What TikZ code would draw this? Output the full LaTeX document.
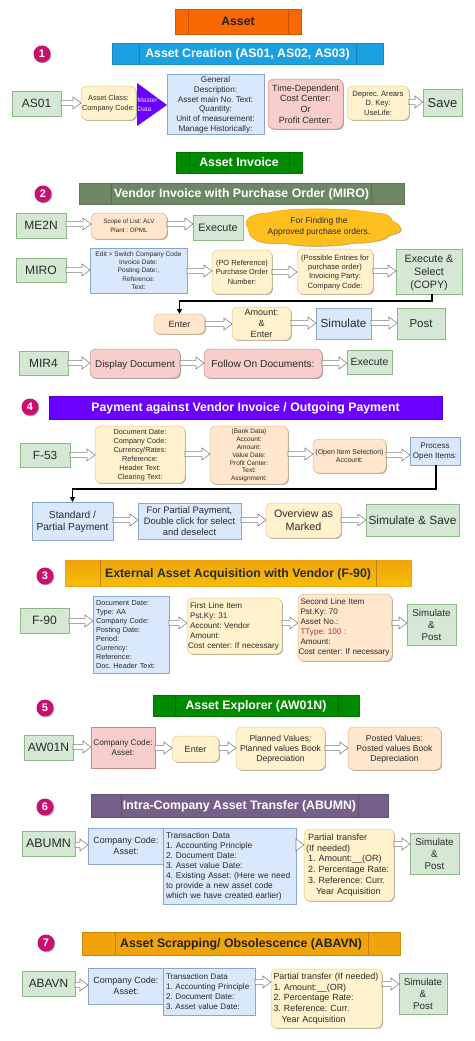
\documentclass[tikz,border=0pt]{standalone}
\usepackage{fontspec}
\setmainfont{Liberation Sans}
\usetikzlibrary{arrows.meta,shadows,calc}
\definecolor{txt}{HTML}{2A2A2A}
\definecolor{HTMLgrn}{HTML}{D5E8D4}\definecolor{HTMLgrnb}{HTML}{8FB888}
\definecolor{HTMLblu}{HTML}{DAE8FC}\definecolor{HTMLblub}{HTML}{8AA6CC}
\definecolor{HTMLyel}{HTML}{FFF2CC}\definecolor{HTMLyelb}{HTML}{E0C98A}
\definecolor{HTMLora}{HTML}{FFE6CC}\definecolor{HTMLorab}{HTML}{E0B880}
\definecolor{HTMLred}{HTML}{F8CECC}\definecolor{HTMLredb}{HTML}{C88886}
\definecolor{HTMLbad}{HTML}{C8106E}\definecolor{HTMLarr}{HTML}{808080}
\definecolor{HTMLcld}{HTML}{FFBF1E}\definecolor{HTMLcldb}{HTML}{F0A818}
\definecolor{HTMLtt}{HTML}{B03030}
\definecolor{hA}{HTML}{FA6800}\definecolor{hB}{HTML}{1BA1E2}\definecolor{hC}{HTML}{008A00}
\definecolor{hD}{HTML}{6D8764}\definecolor{hE}{HTML}{6A00FF}\definecolor{hF}{HTML}{76608A}
\definecolor{hG}{HTML}{F0A30A}\definecolor{hdark}{HTML}{222222}
\tikzset{
  x=1pt,y=-1pt,
  fs/.style 2 args={font=\fontsize{#1}{#2}\selectfont\frenchspacing},
  base/.style={inner sep=0pt,outer sep=0pt,align=center,text=txt,line width=.5pt,text depth=0pt,
    drop shadow={shadow xshift=.9pt,shadow yshift=-.9pt,opacity=.35,fill=black}},
  grn/.style={base,fill=HTMLgrn,draw=HTMLgrnb},
  blu/.style={base,fill=HTMLblu,draw=HTMLblub},
  yel/.style={base,fill=HTMLyel,draw=HTMLyelb},
  ora/.style={base,fill=HTMLora,draw=HTMLorab},
  rdb/.style={base,fill=HTMLred,draw=HTMLredb},
  rnd/.style={rounded corners=6pt},
  lft/.style={align=left,text width=#1,text depth=},
  hdr/.style={base,text depth=-1.5pt,font=\bfseries\fontsize{12.3}{14}\selectfont\frenchspacing},
  badge/.style={circle,fill=HTMLbad,text=white,inner sep=0pt,minimum size=17pt,font=\bfseries\fontsize{11}{12}\selectfont,
    drop shadow={shadow xshift=.8pt,shadow yshift=-.8pt,opacity=.3,fill=black}},
  fat/.style={draw=HTMLarr,fill=white,line width=.55pt,line join=miter,
    to path={($(\tikztostart)+(0,-2.7)$) -- ($(\tikztotarget)+(-8,-2.7)$) -- ($(\tikztotarget)+(-8,-6)$) -- (\tikztotarget)
      -- ($(\tikztotarget)+(-8,6)$) -- ($(\tikztotarget)+(-8,2.7)$) -- ($(\tikztostart)+(0,2.7)$) -- cycle}},
  elbow/.style={draw=black,line width=1.2pt,-{Triangle[length=5pt,width=5pt]}},
}
\newcommand\bx[7]{%
  \pgfmathsetmacro\myw{#5-#3}\pgfmathsetmacro\myh{#6-#4}%
  \pgfmathsetmacro\mycx{(#3+#5)/2}\pgfmathsetmacro\mycy{(#4+#6)/2}%
  \node[#2,minimum width=\myw pt,minimum height=\myh pt] (#1) at (\mycx,\mycy) {#7};}
% name, fill, x1,y1,x2,y2, l1,l2, text colour, text
\newcommand\head[9]{%
  \bx{#1}{hdr,fill=#2,draw=#2!85!black,text=#9}{#3}{#4}{#5}{#6}{\headtext}%
  \draw[#2!80!black,line width=.4pt] (#7,#4) -- (#7,#6) (#8,#4) -- (#8,#6);}
\newcommand\fatto[3]{\draw[fat] (#1.east |- 0,#3) to (#2.west |- 0,#3);}
\begin{document}
\begin{tikzpicture}
\useasboundingbox (0,0) rectangle (474,1041);
\fill[white] (0,0) rectangle (474,1041);

% Titles
\def\headtext{Asset}\head{tAsset}{hA}{175}{9}{301}{34}{188}{288}{hdark}
\def\headtext{Asset Creation (AS01, AS02, AS03)}\head{tCreate}{hB}{112}{43}{383}{64}{139}{356}{white}
\def\headtext{Asset Invoice}\head{tInv}{hC}{176}{152}{302}{173}{189}{289}{white}
\def\headtext{Vendor Invoice with Purchase Order (MIRO)}\head{tMiro}{hD}{79}{183}{404}{204}{111}{371}{white}
\def\headtext{Payment against Vendor Invoice / Outgoing Payment}\head{tPay}{hE}{49}{396}{442}{419}{49}{442}{white}
\bx{tExt}{hdr,top color=hG,bottom color=hG!70!yellow,draw=hG}{65}{560}{411}{586}{External Asset Acquisition with Vendor (F-90)}
\draw[hG!80!black,line width=.4pt] (100,560) -- (100,586) (376,560) -- (376,586);
\def\headtext{Asset Explorer (AW01N)}\head{tExp}{hC}{153}{695}{359}{716}{175}{338}{white}
\def\headtext{Intra-Company Asset Transfer (ABUMN)}\head{tIntra}{hF}{91}{794}{388}{817}{121}{358}{white}
\def\headtext{Asset Scrapping/ Obsolescence (ABAVN)}\head{tScrap}{hG}{82}{932}{400}{955}{115}{368}{hdark}

% Badges
\node[badge] (b1) at (42,54) {1};
\node[badge] (b2) at (43,194) {2};
\node[badge] (b4) at (30,407) {4};
\node[badge] (b3) at (45,576) {3};
\node[badge] (b5) at (45,708) {5};
\node[badge] (b6) at (45,807) {6};
\node[badge] (b7) at (46,943) {7};

% Section 1
\bx{as01}{grn,fs={12}{14}}{12}{91}{61}{116}{AS01}
\bx{aclass}{yel,rnd,fs={7.3}{9.4}}{81}{86}{136}{120}{Asset Class:\\Company Code:}
\fill[hE] (137,83) -- (137,126) -- (167,105) -- cycle;
\node[inner sep=0pt,align=left,text=white!85!hE,fs={6.5}{9}] (master) at (147.5,104.5) {Master\\Data};
\bx{gen}{blu,fs={8.2}{9.9}}{167}{74}{264}{134}{General\\Description:\\Asset main No. Text:\\Quantity:\\Unit of measurement:\\Manage Historically:}
\bx{timed}{rdb,rnd,fs={9}{10.6}}{268}{79}{343}{129}{Time-Dependent\\Cost Center:\\Or\\Profit Center:}
\bx{deprec}{yel,rnd,fs={7.6}{9.4}}{347}{86}{409}{120}{Deprec. Arears\\D. Key:\\UseLife:}
\bx{save}{grn,fs={13}{15}}{423}{89}{462}{116}{Save}
\fatto{as01}{aclass}{103}
\fatto{deprec}{save}{102}

% Section 2
\bx{me2n}{grn,fs={12}{14}}{16}{213}{66}{238}{ME2N}
\bx{scope}{ora,rnd,fs={6.3}{8.8}}{91}{213}{167}{239}{Scope of List: ALV\\Plant : OPML}
\bx{exec1}{grn,fs={10.8}{14}}{193}{215}{243}{240}{Execute}
\fill[HTMLcld,draw=HTMLcldb,line width=.6pt,drop shadow={shadow xshift=.8pt,shadow yshift=-.8pt,opacity=.3,fill=black}]
  (246,224) .. controls (246,216) and (258,213) .. (268,213)
  .. controls (285,209) and (300,209) .. (318,209)
  .. controls (335,209) and (350,209) .. (375,213)
  .. controls (388,213) and (392,218) .. (392,221)
  .. controls (396,222) and (401,226) .. (401,230)
  .. controls (400,233) and (392,234) .. (388,236)
  .. controls (385,241) and (365,243) .. (352,243)
  .. controls (340,246) and (300,248) .. (285,243)
  .. controls (270,244) and (258,243) .. (253,238)
  .. controls (248,236) and (250,230) .. (246,224) -- cycle;
\node[inner sep=0pt,text=txt,align=center,fs={8.5}{11.4}] (cloudt) at (319,226.5) {For Finding the\\Approved purchase orders.};
\bx{miro}{grn,fs={12.1}{14}}{16}{258}{66}{282}{MIRO}
\bx{edit}{blu,fs={6.6}{8.2}}{90}{248}{187}{293}{Edit > Switch Company Code\\Invoice Date:\\Posting Date:,\\Reference:\\Text:}
\bx{po}{yel,rnd,fs={7.4}{9.4}}{212}{250}{272}{294}{(PO Reference)\\Purchase Order\\Number:}
\bx{poss}{yel,rnd,fs={7.6}{9.3}}{297}{249}{373}{294}{(Possible Entries for\\purchase order)\\Invoicing Party:\\Company Code:}
\bx{select}{grn,fs={10.7}{12.9}}{396}{249}{462}{294}{Execute \&\\Select\\(COPY)}
\bx{enter1}{ora,rnd,fs={9}{10}}{154}{314}{205}{334}{Enter}
\bx{amount}{yel,rnd,fs={9}{10.7}}{232}{307}{291}{340}{Amount:\\\&\\Enter}
\bx{simul}{blu,fs={11.8}{14}}{316}{308}{371}{339}{Simulate}
\bx{post}{grn,fs={11.5}{14}}{397}{308}{445}{339}{Post}
\bx{mir4}{grn,fs={12}{14}}{19}{351}{68}{375}{MIR4}
\bx{disp}{rdb,rnd,fs={9.8}{11}}{90}{349}{180}{378}{Display Document}
\bx{follow}{rdb,rnd,fs={10.2}{11}}{204}{349}{322}{378}{Follow On Documents:}
\bx{exec2}{grn,fs={10.4}{12}}{347}{350}{392}{374}{Execute}
\fatto{me2n}{scope}{224}
\fatto{scope}{exec1}{224}
\fatto{miro}{edit}{270}
\fatto{edit}{po}{271}
\fatto{po}{poss}{272}
\fatto{poss}{select}{271}
\coordinate (k1a) at (432,301);
\draw[elbow] (select.south -| k1a) -- (k1a) -- (k1a -| enter1.north) -- (enter1.north);
\fatto{enter1}{amount}{324}
\fatto{amount}{simul}{323}
\fatto{simul}{post}{323}
\fatto{mir4}{disp}{363}
\fatto{disp}{follow}{363}
\fatto{follow}{exec2}{363}

% Section 4
\bx{f53}{grn,fs={11.8}{14}}{20}{443}{70}{467}{F-53}
\bx{docd}{yel,rnd,fs={7.3}{8.85}}{95}{426}{185}{483}{Document Date:\\Company Code:\\Currency/Rates:\\Reference:\\Header Text:\\Clearing Text:}
\bx{bank}{ora,rnd,fs={6.5}{7.8}}{210}{426}{288}{484}{(Bank Data)\\Account:\\Amount:\\Value Date:\\Profit Center:\\Text:\\Assignment:}
\bx{openi}{ora,rnd,fs={7}{8.8}}{313}{439}{386}{473}{(Open Item Selection)\\Account:}
\bx{proc}{blu,fs={8.1}{10}}{410}{437}{460}{465}{Process\\Open Items:}
\bx{stand}{blu,fs={10.2}{12.4}}{32}{502}{113}{540}{Standard /\\Partial Payment}
\bx{forp}{blu,fs={9.4}{11.2}}{138}{503}{241}{539}{For Partial Payment,\\Double click for select\\and deselect}
\bx{over}{yel,rnd,fs={10.7}{13}}{266}{503}{341}{538}{Overview as\\Marked}
\bx{simsv}{grn,fs={11.9}{13}}{366}{504}{459}{536}{Simulate \& Save}
\fatto{f53}{docd}{455}
\fatto{docd}{bank}{454}
\fatto{bank}{openi}{454}
\fatto{openi}{proc}{455}
\coordinate (k2a) at (436,489);
\draw[elbow] (proc.south -| k2a) -- (k2a) -- (k2a -| stand.north) -- (stand.north);
\fatto{stand}{forp}{520}
\fatto{forp}{over}{520}
\fatto{over}{simsv}{520}

% Section 3
\bx{f90}{grn,fs={12.1}{14}}{20}{608}{69}{633}{F-90}
\bx{doc3}{blu,lft=70pt,fs={7.3}{8.95}}{93}{596}{169}{673}{Document Date:\\Type: AA\\Company Code:\\Posting Date:\\Period:\\Currency:\\Reference:\\Doc. Header Text:}
\bx{first}{yel,rnd,lft=93pt,fs={8.1}{10}}{187}{598}{282}{654}{\hspace*{2pt}First Line Item\\\hspace*{2pt}Pst.Ky: 31\\\hspace*{2pt}Account: Vendor\\\hspace*{2pt}Amount:\\Cost center: If necessary}
\bx{second}{ora,rnd,lft=93pt,fs={8.1}{9.95}}{298}{594}{392}{661}{\hspace*{2pt}Second Line Item\\\hspace*{2pt}Pst.Ky: 70\\\hspace*{2pt}Asset No.:\\\hspace*{2pt}\textcolor{HTMLtt}{TType: 100 :}\\\hspace*{2pt}Amount:\\Cost center: If necessary}
\bx{sim3}{grn,fs={9.8}{12}}{407}{604}{456}{645}{Simulate\\\&\\Post}
\fatto{f90}{doc3}{621}
\fatto{doc3}{first}{623}
\fatto{first}{second}{623}
\fatto{second}{sim3}{623}

% Section 5
\bx{aw}{grn,fs={12.1}{14}}{24}{735}{73}{760}{AW01N}
\bx{comp5}{rdb,fs={8.2}{10.4}}{91}{727}{155}{768}{Company Code:\\Asset:}
\bx{enter5}{yel,rnd,fs={9}{10}}{172}{736}{219}{762}{Enter}
\bx{plan}{yel,rnd,fs={8.6}{10.2}}{236}{727}{325}{770}{Planned Values:\\Planned values Book\\Depreciation}
\bx{posted}{ora,rnd,fs={8.6}{10.2}}{348}{727}{441}{770}{Posted Values:\\Posted values Book\\Depreciation}
\fatto{aw}{comp5}{747}
\fatto{comp5}{enter5}{748}
\fatto{enter5}{plan}{748}
\fatto{plan}{posted}{748}

% Section 6
\bx{abumn}{grn,fs={12.4}{14}}{22}{831}{75}{856}{ABUMN}
\bx{comp6}{blu,fs={9}{11}}{88}{828}{164}{864}{Company Code:\\Asset:}
\bx{trans6}{blu,lft=127pt,fs={8.4}{9.95}}{163}{828}{296}{904}{Transaction Data\\1. Accounting Principle\\2. Document Date:\\3. Asset value Date:\\4. Existing Asset: (Here we need\\to provide a new asset code\\which we have created earlier)}
\bx{part6}{yel,rnd,lft=86pt,fs={9}{10.8}}{304}{829}{394}{901}{\hspace*{2pt}Partial transfer\\(If needed)\\\hspace*{2pt}1. Amount:\_\_(OR)\\\hspace*{2pt}2. Percentage Rate:\\\hspace*{2pt}3. Reference: Curr.\\\hspace*{10pt}Year Acquisition}
\bx{sim6}{grn,fs={9.8}{12}}{410}{833}{459}{874}{Simulate\\\&\\Post}
\fatto{abumn}{comp6}{845}
\fatto{trans6}{part6}{845}
\fatto{part6}{sim6}{844}

% Section 7
\bx{abavn}{grn,fs={11.9}{14}}{22}{971}{75}{996}{ABAVN}
\bx{comp7}{blu,fs={9}{11}}{88}{968}{164}{1004}{Company Code:\\Asset:}
\bx{trans7}{blu,lft=86pt,fs={8.1}{9.95}}{163}{968}{255}{1015}{Transaction Data\\1. Accounting Principle\\2. Document Date:\\3. Asset value Date:}
\bx{part7}{yel,rnd,lft=106pt,fs={8.9}{10.8}}{271}{969}{382}{1028}{Partial transfer (If needed)\\1. Amount:\_\_(OR)\\2. Percentage Rate:\\3. Reference: Curr.\\\hspace*{8pt}Year Acquisition}
\bx{sim7}{grn,fs={9.8}{12}}{399}{973}{447}{1014}{Simulate\\\&\\Post}
\fatto{abavn}{comp7}{985}
\fatto{trans7}{part7}{982}
\fatto{part7}{sim7}{984}
\end{tikzpicture}
\end{document}
